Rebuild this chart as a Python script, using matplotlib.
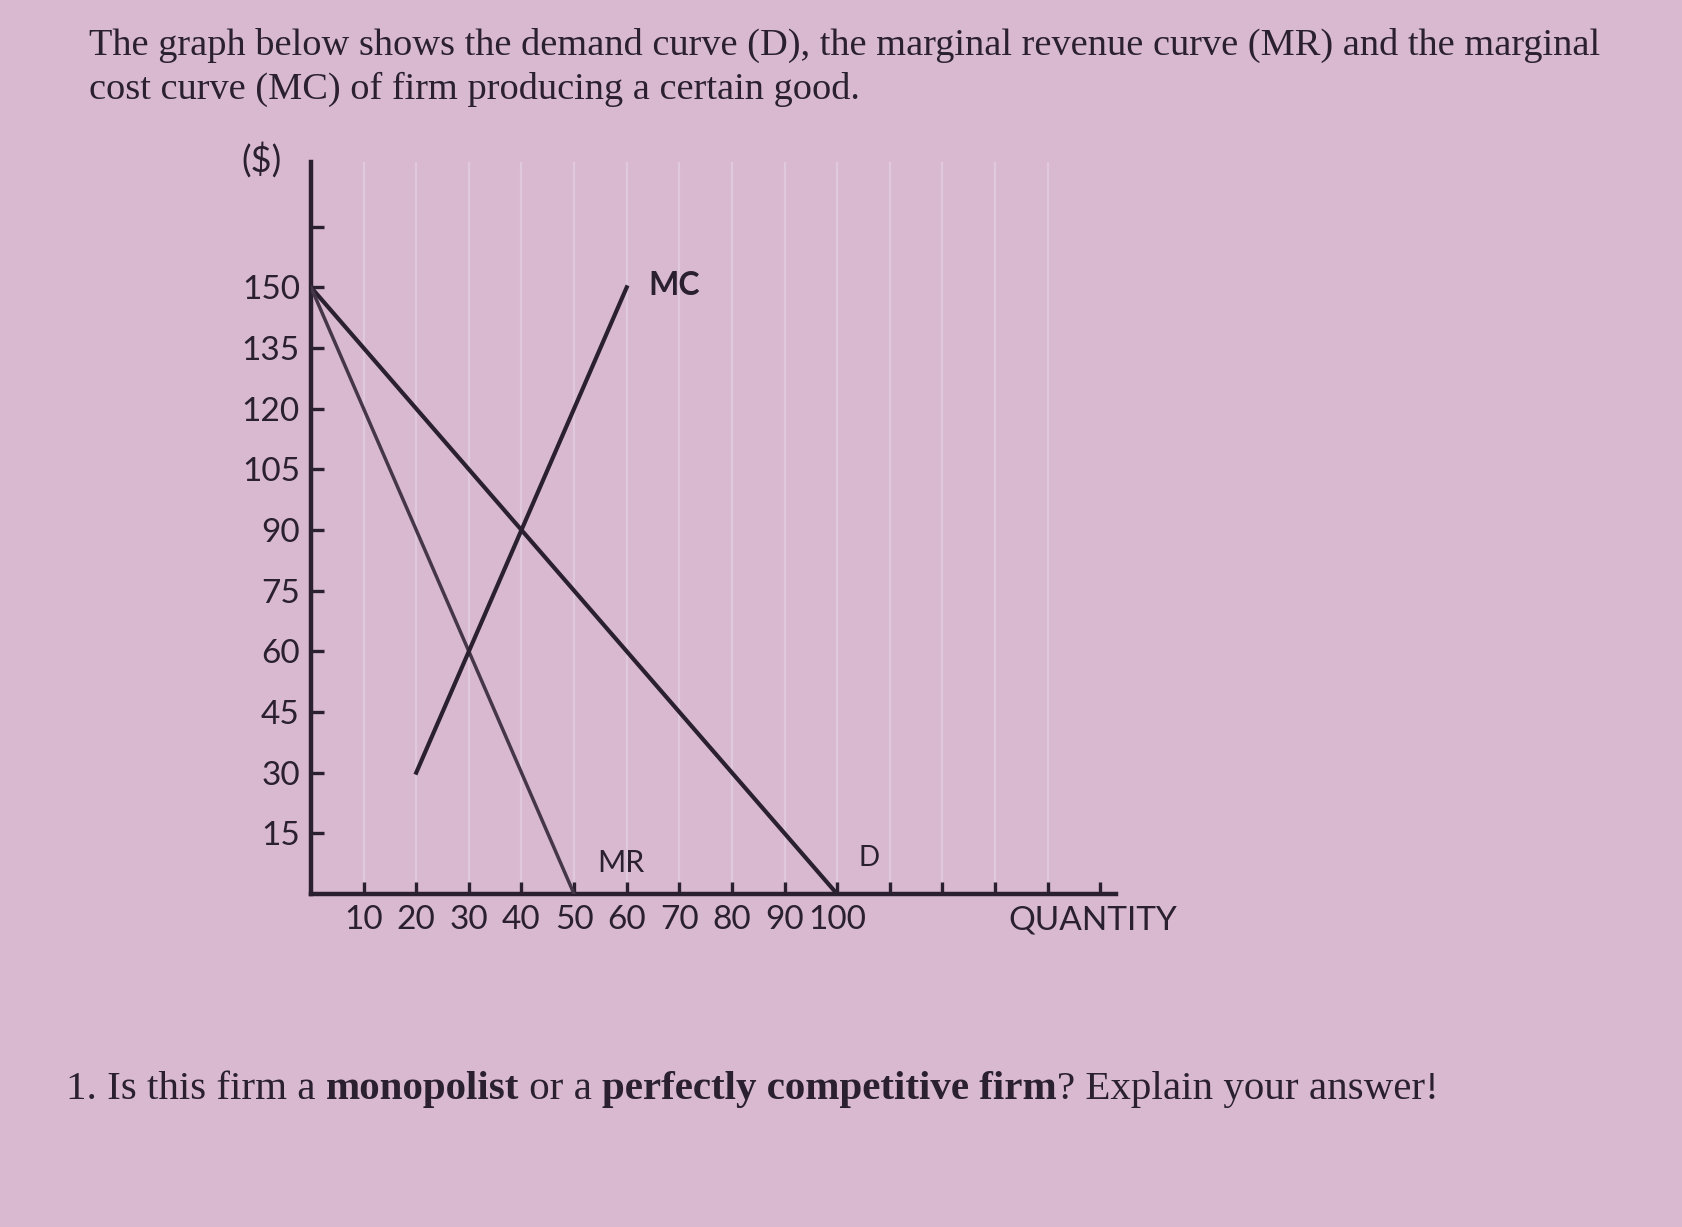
import matplotlib
matplotlib.use("Agg")
import matplotlib.pyplot as plt

# data
d_q = [0, 100]
d_p = [150, 0]
mr_q = [0, 50]
mr_p = [150, 0]
mc_q = [20, 60]
mc_p = [30, 150]

y_ticks = [15, 30, 45, 60, 75, 90, 105, 120, 135, 150, 165]
y_labels = ["15", "30", "45", "60", "75", "90", "105", "120", "135", "150", ""]
x_ticks = list(range(10, 160, 10))
x_labels = [str(v) if v <= 100 else "" for v in x_ticks]
grid_q = list(range(10, 150, 10))

bg = "#d8b9d0"
ink = "#2a2030"
serif = "Liberation Serif"

fig = plt.figure(figsize=(16.83, 12.27), dpi=100, facecolor=bg)

# the question text above the graph
fig.text(0.053, 0.963, "The graph below shows the demand curve (D), the marginal revenue curve (MR) and the marginal",
         family=serif, fontsize=27.6, color=ink, va="center")
fig.text(0.053, 0.927, "cost curve (MC) of firm producing a certain good.",
         family=serif, fontsize=27.6, color=ink, va="center")

ax = fig.add_axes([0.1848, 0.2714, 0.4783, 0.5966])
ax.set_facecolor(bg)
ax.set_xlim(0, 153)
ax.set_ylim(0, 181)

# faint grid of the paper
ax.vlines(grid_q, 0, 181, color="#e0c9dc", lw=1.6, zorder=0)

ax.plot(d_q, d_p, color=ink, lw=3.0, zorder=3)
ax.plot(mr_q, mr_p, color="#45364a", lw=2.5, zorder=3)
ax.plot(mc_q, mc_p, color=ink, lw=3.0, zorder=3)

for s in ["top", "right"]:
    ax.spines[s].set_visible(False)
for s in ["left", "bottom"]:
    ax.spines[s].set_linewidth(3.2)
    ax.spines[s].set_color(ink)

ax.set_yticks(y_ticks)
ax.set_yticklabels(y_labels)
ax.set_xticks(x_ticks)
ax.set_xticklabels(x_labels)
ax.tick_params(direction="in", length=9, width=2.4, color=ink, labelcolor=ink,
               labelsize=24, pad=8)
for lab in ax.get_xticklabels() + ax.get_yticklabels():
    lab.set_family("Lato")

ax.text(69, 150.5, "MC", family="Lato", fontweight="bold", fontsize=23, color=ink, ha="center", va="center")
ax.text(58.8, 7.6, "MR", family="Lato", fontsize=22, color=ink, ha="center", va="center")
ax.text(106, 8.8, "D", family="Lato", fontsize=20, color=ink, ha="center", va="center")
ax.text(148.5, -6.6, "QUANTITY", family="Lato", fontsize=24, color=ink, ha="center", va="center", clip_on=False)
ax.text(-9.4, 181.5, "($)", family="Lato", fontsize=26, color=ink, ha="center", va="center", clip_on=False)

# question line below, with two bold pieces -> place pieces one after another
parts = [("1. Is this firm a ", "normal"), ("monopolist", "bold"), (" or a ", "normal"),
         ("perfectly competitive firm", "bold"), ("? Explain your answer!", "normal")]
fig.canvas.draw()
r = fig.canvas.get_renderer()
x0 = 0.039
for txt, w in parts:
    t = fig.text(x0, 0.104, txt, family=serif, fontsize=29.5, color=ink, fontweight=w, va="baseline")
    x0 = x0 + t.get_window_extent(renderer=r).width / fig.bbox.width

fig.savefig("out.png", dpi=100, facecolor=bg)
